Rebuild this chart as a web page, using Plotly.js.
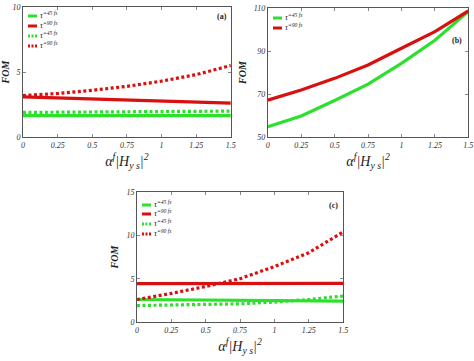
<!DOCTYPE html>
<html><head><meta charset="utf-8">
<script src="https://cdn.plot.ly/plotly-3.0.1.min.js"></script>
<style>body{margin:0;background:#fff}#g{width:474px;height:361px}</style>
</head><body><div id="g"></div>
<script>
const xs = [0, 0.25, 0.5, 0.75, 1.0, 1.25, 1.5];
const xTickVals = [0, 0.25, 0.5, 0.75, 1, 1.25, 1.5];
const xTickText = ['0', '0.25', '0.5', '0.75', '1', '1.25', '1.5'];
// Panel (a)
const aGreenSolid = [1.65, 1.65, 1.65, 1.65, 1.65, 1.65, 1.65];
const aRedSolid   = [3.1, 3.02, 2.95, 2.87, 2.78, 2.7, 2.62];
const aGreenDot   = [1.9, 1.92, 1.94, 1.96, 1.97, 1.99, 2.0];
const aRedDot     = [3.2, 3.35, 3.6, 3.9, 4.3, 4.8, 5.5];
// Panel (b)
const bGreen = [54.8, 59.8, 67, 74.6, 84.3, 95, 108.3];
const bRed   = [67.2, 71.9, 77.3, 83.5, 91.3, 99, 108.6];
// Panel (c)
const cGreenSolid = [2.6, 2.57, 2.53, 2.5, 2.47, 2.43, 2.4];
const cRedSolid   = [4.43, 4.43, 4.43, 4.43, 4.44, 4.44, 4.45];
const cGreenDot   = [1.9, 1.95, 2.0, 2.1, 2.3, 2.6, 3.0];
const cRedDot     = [2.6, 3.3, 4.1, 5.0, 6.4, 8.0, 10.4];
const names = ['τ<sup>=45 fs</sup>', 'τ<sup>=90 fs</sup>', 'τ<sup>=45 fs</sup>', 'τ<sup>=90 fs</sup>'];

const W = 474, H = 361;
const GREEN = '#2ee02e', RED = '#d81010';
const tickFont = {family: 'Liberation Serif', size: 8, color: '#333', style: 'italic'};
function tr(y, name, color, dash, xa, ya) {
  return {x: xs, y: y, name: name, type: 'scatter', mode: 'lines',
    line: {color: color, width: 3.2, dash: dash === 'solid' ? 'solid' : '3px,2.5px'},
    xaxis: xa, yaxis: ya, showlegend: false};
}
const data = [
  tr(aGreenSolid, names[0], GREEN, 'solid', 'x', 'y'),
  tr(aRedSolid, names[1], RED, 'solid', 'x', 'y'),
  tr(aGreenDot, names[2], GREEN, 'dot', 'x', 'y'),
  tr(aRedDot, names[3], RED, 'dot', 'x', 'y'),
  tr(bGreen, names[0], GREEN, 'solid', 'x2', 'y2'),
  tr(bRed, names[1], RED, 'solid', 'x2', 'y2'),
  tr(cGreenSolid, names[0], GREEN, 'solid', 'x3', 'y3'),
  tr(cRedSolid, names[1], RED, 'solid', 'x3', 'y3'),
  tr(cGreenDot, names[2], GREEN, 'dot', 'x3', 'y3'),
  tr(cRedDot, names[3], RED, 'dot', 'x3', 'y3')
];
const xTitle = {text: '<i>α<sup>f</sup>|H<sub>y</sub><sub> s</sub>|<sup>2</sup></i>', font: {family: 'Liberation Serif', size: 14, color: '#222'}, standoff: 7};
const yTitle = {text: '<i><b>FOM</b></i>', font: {family: 'Liberation Serif', size: 10, color: '#222'}, standoff: 5};
function xax(dom, anchor) {
  return {domain: dom, anchor: anchor, range: [0, 1.5], tickvals: xTickVals, ticktext: xTickText,
    ticks: 'inside', ticklen: 3, tickcolor: '#888', showline: true, linecolor: '#555', linewidth: 1,
    mirror: 'ticks', showgrid: false, zeroline: false, tickfont: tickFont, title: xTitle,
    ticklabeloverflow: 'allow'};
}
function yax(dom, anchor, range, vals) {
  return {domain: dom, anchor: anchor, range: range, tickvals: vals,
    ticks: 'inside', ticklen: 3, tickcolor: '#888', showline: true, linecolor: '#555', linewidth: 1,
    mirror: 'ticks', showgrid: false, zeroline: false, tickfont: tickFont, title: yTitle,
    ticklabeloverflow: 'allow'};
}
// manual legends (pixel positions converted to paper coords)
const shapes = [], annotations = [];
function addLegend(x0, ys, colors, dashes, labels) {
  ys.forEach((y, i) => {
    shapes.push({type: 'line', xref: 'paper', yref: 'paper', x0: x0 / W, x1: (x0 + 9) / W,
      y0: 1 - y / H, y1: 1 - y / H,
      line: {color: colors[i], width: 3, dash: dashes[i] === 'solid' ? 'solid' : '2px,1.5px'}});
    annotations.push({text: '<i>' + labels[i] + '</i>', xref: 'paper', yref: 'paper',
      x: (x0 + 10) / W, y: 1 - (y - 1) / H, xanchor: 'left', yanchor: 'middle', showarrow: false,
      font: {family: 'Liberation Serif', size: 8, color: '#222'}});
  });
}
addLegend(28, [16, 26, 36, 46], [GREEN, RED, GREEN, RED], ['solid', 'solid', 'dot', 'dot'], names);
addLegend(273, [18, 28], [GREEN, RED], ['solid', 'solid'], names.slice(0, 2));
addLegend(142, [205, 214, 224, 234], [GREEN, RED, GREEN, RED], ['solid', 'solid', 'dot', 'dot'], names);
const panelFont = {family: 'Liberation Serif', size: 8, color: '#222'};
annotations.push(
  {text: '<b>(a)</b>', x: 222 / W, y: 1 - 16 / H, xref: 'paper', yref: 'paper', showarrow: false, xanchor: 'center', yanchor: 'middle', font: panelFont},
  {text: '<b>(b)</b>', x: 457 / W, y: 1 - 40 / H, xref: 'paper', yref: 'paper', showarrow: false, xanchor: 'center', yanchor: 'middle', font: panelFont},
  {text: '<b>(c)</b>', x: 333 / W, y: 1 - 205 / H, xref: 'paper', yref: 'paper', showarrow: false, xanchor: 'center', yanchor: 'middle', font: panelFont}
);
const layout = {
  width: W, height: H, margin: {l: 0, r: 0, t: 0, b: 0},
  paper_bgcolor: '#fff', plot_bgcolor: '#fff', showlegend: false,
  font: {family: 'Liberation Serif'},
  xaxis: xax([0.0485, 0.487], 'y'),
  yaxis: yax([0.62, 0.981], 'x', [0, 10], [0, 5, 10]),
  xaxis2: xax([0.565, 0.988], 'y2'),
  yaxis2: yax([0.62, 0.978], 'x2', [50, 110], [50, 70, 90, 110]),
  xaxis3: xax([0.289, 0.724], 'y3'),
  yaxis3: yax([0.108, 0.468], 'x3', [0, 15], [0, 5, 10, 15]),
  shapes: shapes,
  annotations: annotations
};
Plotly.newPlot('g', data, layout, {displayModeBar: false, staticPlot: true});
</script></body></html>
